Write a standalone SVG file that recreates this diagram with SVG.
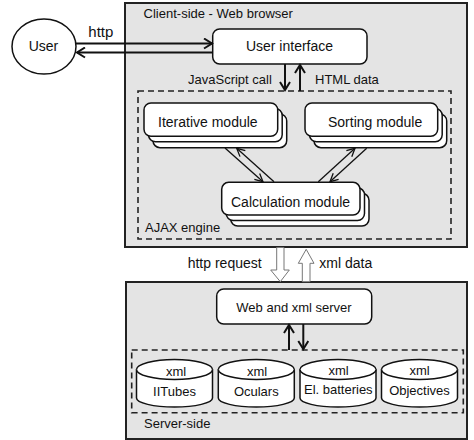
<svg xmlns="http://www.w3.org/2000/svg" width="474" height="440" viewBox="0 0 474 440">
<style>
text{font-family:"Liberation Sans",Arial,sans-serif;fill:#111}
.t14{font-size:14px}
.t13{font-size:13px}
.t15{font-size:15px}
.zone{fill:#e4e4e4;stroke:#222;stroke-width:2}
.dash{fill:none;stroke:#222;stroke-width:1.6;stroke-dasharray:6,4}
.node{fill:#fff;stroke:#111;stroke-width:1.5}
.thick{fill:none;stroke:#111;stroke-width:2}
.thin{fill:none;stroke:#111;stroke-width:1.3}
.hollow{fill:#fff;stroke:#777;stroke-width:1}
.cyl{fill:#fff;stroke:#111;stroke-width:1.5}
</style>
<defs>
<marker id="ah" markerUnits="userSpaceOnUse" markerWidth="12" markerHeight="12" refX="9" refY="6" orient="auto">
<path d="M1,1 L9,6 L1,11" fill="none" stroke="#111" stroke-width="2"/>
</marker>
<marker id="as" markerUnits="userSpaceOnUse" markerWidth="12" markerHeight="12" refX="9" refY="6" orient="auto">
<path d="M1,2 L9,6 L1,10" fill="none" stroke="#111" stroke-width="1.3"/>
</marker>
</defs>

<g id="client-zone">
<rect class="zone" x="125" y="3" width="342" height="244"/>
<text class="t13" x="143.6" y="18">Client-side - Web browser</text>
</g>
<g id="server-zone">
<rect class="zone" x="126" y="282" width="341" height="157"/>
<text class="t13" x="144" y="428.3">Server-side</text>
</g>
<g id="ajax-engine">
<rect class="dash" x="138" y="91" width="313" height="148"/>
<text class="t13" x="145" y="231.5">AJAX engine</text>
</g>
<g id="xml-store">
<rect class="dash" x="131.7" y="350" width="331.6" height="62.7"/>
</g>

<g id="user">
<ellipse cx="44" cy="46.5" rx="32" ry="27.5" fill="#fff" stroke="#111" stroke-width="1.5"/>
<text class="t14" x="43.5" y="51" text-anchor="middle">User</text>
</g>
<g id="user-interface">
<rect class="node" x="212.7" y="29" width="154.3" height="35" rx="7"/>
<text class="t14" x="289.5" y="51" text-anchor="middle">User interface</text>
</g>
<g id="iterative-module">
<rect class="node" x="153" y="114" width="133.7" height="33.7" rx="7"/>
<rect class="node" x="148.5" y="108.5" width="133.7" height="33.3" rx="7"/>
<rect class="node" x="144" y="103" width="133.7" height="33.3" rx="7"/>
<text class="t14" x="158" y="126.5">Iterative module</text>
</g>
<g id="sorting-module">
<rect class="node" x="314" y="114" width="132.7" height="33.7" rx="7"/>
<rect class="node" x="309.5" y="108.5" width="132.7" height="33.3" rx="7"/>
<rect class="node" x="305" y="103" width="132.7" height="33.3" rx="7"/>
<text class="t14" x="328" y="126.5">Sorting module</text>
</g>
<g id="calculation-module">
<rect class="node" x="230.7" y="193.3" width="138.3" height="32.7" rx="7"/>
<rect class="node" x="226.2" y="187.8" width="138.3" height="32.7" rx="7"/>
<rect class="node" x="221.7" y="182.3" width="138.3" height="32.7" rx="7"/>
<text class="t14" x="231" y="206.5">Calculation module</text>
</g>
<g id="web-xml-server">
<rect class="node" x="216.7" y="289" width="155" height="35" rx="7"/>
<text class="t13" x="294" y="311.5" text-anchor="middle">Web and xml server</text>
</g>

<g id="db-iitubes">
<path class="cyl" d="M136.5,369.5 A38,10 0 0 1 212.5,369.5 L212.5,398 A38,9 0 0 1 136.5,398 Z"/>
<path class="cyl" fill="none" d="M136.5,369.5 A38,10 0 0 0 212.5,369.5"/>
<text class="t13" x="176" y="375.5" text-anchor="middle">xml</text>
<text class="t13" x="174.5" y="395.5" text-anchor="middle">IITubes</text>
</g>
<g id="db-oculars">
<path class="cyl" d="M218.3,369.5 A38,10 0 0 1 294.3,369.5 L294.3,398 A38,9 0 0 1 218.3,398 Z"/>
<path class="cyl" fill="none" d="M218.3,369.5 A38,10 0 0 0 294.3,369.5"/>
<text class="t13" x="257" y="375.5" text-anchor="middle">xml</text>
<text class="t13" x="256.3" y="395.5" text-anchor="middle">Oculars</text>
</g>
<g id="db-batteries">
<path class="cyl" d="M300,369.5 A38,10 0 0 1 376,369.5 L376,398 A38,9 0 0 1 300,398 Z"/>
<path class="cyl" fill="none" d="M300,369.5 A38,10 0 0 0 376,369.5"/>
<text class="t13" x="338.5" y="375" text-anchor="middle">xml</text>
<text class="t13" x="338.3" y="393.5" text-anchor="middle">El. batteries</text>
</g>
<g id="db-objectives">
<path class="cyl" d="M381.5,369.5 A38,10 0 0 1 457.5,369.5 L457.5,398 A38,9 0 0 1 381.5,398 Z"/>
<path class="cyl" fill="none" d="M381.5,369.5 A38,10 0 0 0 457.5,369.5"/>
<text class="t13" x="419.5" y="375" text-anchor="middle">xml</text>
<text class="t13" x="419.5" y="394.5" text-anchor="middle">Objectives</text>
</g>

<g id="connectors">
<line class="thick" x1="76" y1="43.5" x2="212" y2="43.5" marker-end="url(#ah)"/>
<line class="thick" x1="212.7" y1="52.5" x2="77" y2="52.5" marker-end="url(#ah)"/>
<text class="t15" x="88.3" y="36.5">http</text>
<line class="thick" x1="285" y1="64" x2="285" y2="90" marker-end="url(#ah)"/>
<line class="thick" x1="300" y1="91" x2="300" y2="65" marker-end="url(#ah)"/>
<text class="t13" x="188" y="83.5">JavaScript call</text>
<text class="t13" x="315" y="83.5">HTML data</text>
<line class="thin" x1="225" y1="148" x2="263" y2="181.7" marker-end="url(#as)"/>
<line class="thin" x1="274" y1="181.7" x2="236.7" y2="148.3" marker-end="url(#as)"/>
<line class="thin" x1="318.3" y1="181.7" x2="355" y2="148.3" marker-end="url(#as)"/>
<line class="thin" x1="366.7" y1="148.3" x2="330" y2="181.7" marker-end="url(#as)"/>
<polygon class="hollow" points="276.7,247.5 284,247.5 284,270 289.3,270 280.3,281.7 270.7,270 276.7,270"/>
<polygon class="hollow" points="306.2,249.3 314,263.3 310,263.3 310,281.7 302.3,281.7 302.3,263.3 298.3,263.3"/>
<text class="t14" x="187.7" y="268.3">http request</text>
<text class="t14" x="319.3" y="268">xml data</text>
<line class="thick" x1="289" y1="350" x2="289" y2="325" marker-end="url(#ah)"/>
<line class="thick" x1="303.3" y1="324" x2="303.3" y2="349" marker-end="url(#ah)"/>
</g>
</svg>
